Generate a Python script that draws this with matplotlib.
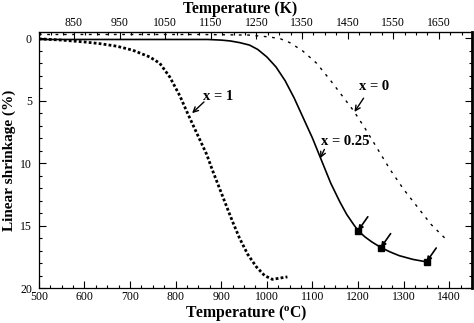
import matplotlib
matplotlib.use("Agg")
import matplotlib.pyplot as plt
from matplotlib.ticker import MultipleLocator, FixedLocator

plt.rcParams['font.family'] = ['Liberation Serif', 'DejaVu Serif']
plt.rcParams['mathtext.fontset'] = 'custom'
plt.rcParams['mathtext.rm'] = 'Liberation Serif'
plt.rcParams['mathtext.bf'] = 'Liberation Serif:bold'

# Linear shrinkage (%) versus temperature (°C)
t_x1 = [500, 550, 600, 633, 671, 706, 743, 765, 787, 809, 826, 845, 868, 881,
        896, 912, 925, 940, 958, 977, 995, 1012, 1028, 1045]
s_x1 = [0.05, 0.15, 0.3, 0.43, 0.64, 0.96, 1.5, 2.0, 3.1, 4.6, 6.0, 7.5, 9.3,
        10.6, 12.0, 13.5, 14.7, 16.0, 17.3, 18.3, 19.0, 19.3, 19.2, 19.1]

t_x025 = [500, 700, 870, 900, 920, 940, 962, 980, 1000, 1020, 1040, 1060, 1080,
          1100, 1120, 1140, 1160, 1175, 1190, 1200, 1215, 1230, 1250, 1270,
          1290, 1320, 1350]
s_x025 = [0.1, 0.1, 0.1, 0.15, 0.22, 0.35, 0.55, 0.9, 1.5, 2.3, 3.4, 4.8, 6.4,
          8.0, 9.8, 11.6, 13.1, 14.1, 14.9, 15.4, 15.9, 16.3, 16.75, 17.1,
          17.4, 17.7, 17.9]

t_x0 = [500, 700, 852, 962, 1006, 1030, 1050, 1078, 1109, 1140, 1165, 1190,
        1215, 1240, 1270, 1300, 1330, 1360, 1393]
s_x0 = [-0.3, -0.3, -0.3, -0.25, -0.1, 0.05, 0.35, 1.0, 2.0, 3.4, 4.6, 5.8,
        7.2, 8.7, 10.5, 12.1, 13.5, 14.9, 16.1]

# marked points on the x = 0.25 curve
mark_t = [1200, 1250, 1350]
mark_s = [15.4, 16.75, 17.9]

bottom_ticks = [500, 600, 700, 800, 900, 1000, 1100, 1200, 1300, 1400]
top_ticks = [850, 950, 1050, 1150, 1250, 1350, 1450, 1550, 1650]
y_ticks = [0, 5, 10, 15, 20]

fig = plt.figure(figsize=(4.74, 3.23), dpi=100)
ax = fig.add_axes([0.082, 0.108, 0.914, 0.793])

ax.plot(t_x1, s_x1, color='black', lw=2.0, linestyle=(0, (1, 0.8)),
        dash_capstyle='butt')
ax.plot(t_x025, s_x025, color='black', lw=1.2, linestyle='-')
ax.plot(t_x0, s_x0, color='black', lw=1.0, linestyle=(0, (2, 4)))

ax.plot(mark_t, mark_s, linestyle='none', marker='s', ms=4, color='black')
for t, s in zip(mark_t, mark_s):
    ax.annotate('', xy=(t, s), xytext=(7, 10), textcoords='offset points',
                arrowprops=dict(arrowstyle='-|>', color='black', lw=1.2,
                                mutation_scale=7, shrinkA=0, shrinkB=0))

lab_kw = dict(fontsize=10.5, fontweight='bold', color='black')
arr = dict(arrowstyle='->', color='black', lw=1.0, mutation_scale=9,
           shrinkA=0, shrinkB=0)

ax.text(892, 4.7, 'x = 1', ha='center', va='center', **lab_kw)
ax.annotate('', xy=(836, 6.0), xytext=(862, 5.1), arrowprops=arr)

ax.text(1235, 3.9, 'x = 0', ha='center', va='center', **lab_kw)
ax.annotate('', xy=(1192, 5.9), xytext=(1212, 4.8), arrowprops=arr)

ax.text(1172, 8.3, 'x = 0.25', ha='center', va='center', **lab_kw)
ax.annotate('', xy=(1117, 9.6), xytext=(1126, 8.9), arrowprops=arr)

ax.set_xlim(500, 1450)
ax.set_ylim(20, -0.5)
ax.xaxis.set_major_locator(FixedLocator(bottom_ticks))
ax.xaxis.set_minor_locator(MultipleLocator(25))
ax.yaxis.set_major_locator(FixedLocator(y_ticks))
ax.yaxis.set_minor_locator(MultipleLocator(1))
ax.tick_params(which='both', direction='in', left=True, right=True,
               labelsize=8.5)
ax.tick_params(axis='x', pad=2)
ax.tick_params(axis='y', pad=5)
ax.tick_params(which='major', length=5, width=0.8)
ax.tick_params(which='minor', length=2.5, width=0.8)
for side in ['left', 'bottom', 'top']:
    ax.spines[side].set_linewidth(0.9)
ax.spines['right'].set_linewidth(2.0)

ax.set_xlabel('Temperature ($\\mathbf{^{o}}$C)', fontsize=11.3,
              fontweight='bold', labelpad=0)
ax.xaxis.label.set_x(0.478)
ax.set_ylabel('Linear shrinkage (%)', fontsize=11, fontweight='bold',
              labelpad=3)

sec = ax.secondary_xaxis('top', functions=(lambda c: c + 273,
                                           lambda k: k - 273))
sec.xaxis.set_major_locator(FixedLocator(top_ticks))
sec.xaxis.set_minor_locator(MultipleLocator(25))
sec.tick_params(which='both', direction='in', labelsize=8.5, pad=2)
sec.tick_params(which='major', length=5, width=0.8)
sec.tick_params(which='minor', length=2.5, width=0.8)
sec.set_xlabel('Temperature (K)', fontsize=11.3, fontweight='bold',
               labelpad=3)
sec.xaxis.label.set_x(0.464)

fig.savefig('out.png', dpi=100)
